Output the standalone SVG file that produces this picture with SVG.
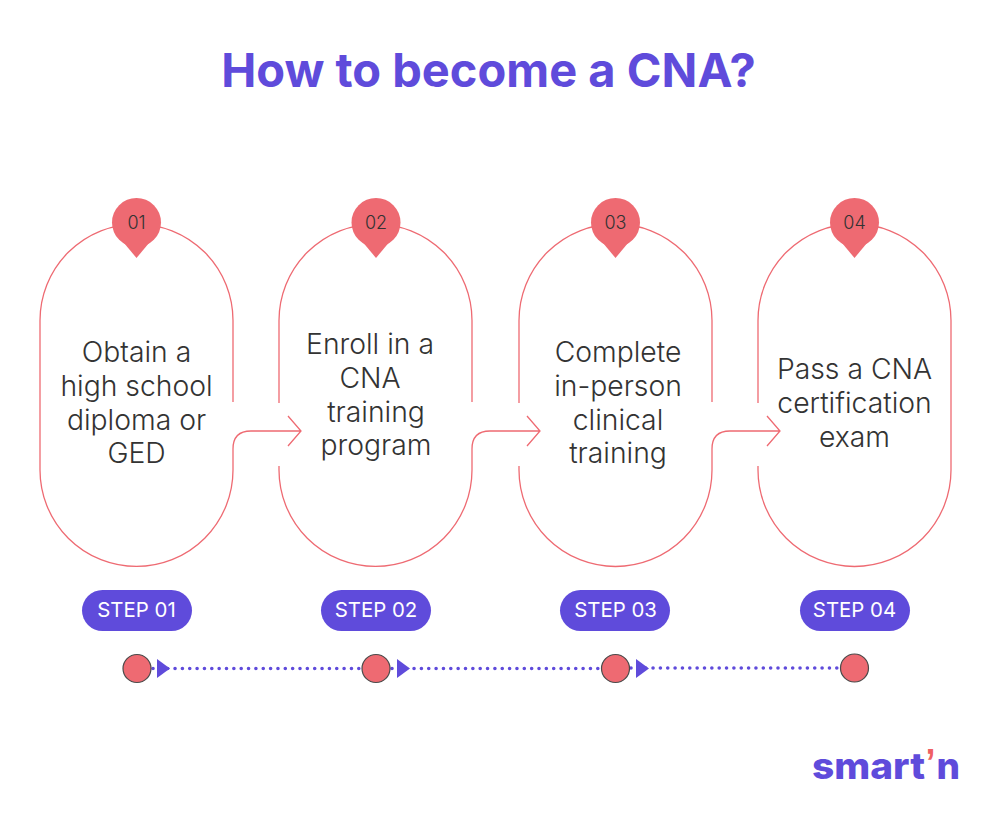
<svg xmlns="http://www.w3.org/2000/svg" width="1000" height="822" viewBox="0 0 1000 822">
<style>
.body{fill:none;stroke:#ee6a72;stroke-width:1.3}
.pin{fill:#ee6a72}
.num{font:300 18px Inter,sans-serif;fill:#333;text-anchor:middle}
.t{font:300 28.300px Inter,sans-serif;fill:#333;text-anchor:middle}
.pill{fill:#5f4bdb}
.st{font:20.400px Inter,sans-serif;fill:#fff;text-anchor:middle}
.dot{fill:#ee6a72;stroke:#4a4a4a;stroke-width:1.2}
.tri{fill:#5f4bdb}
.dots{stroke:#5f4bdb;stroke-width:3.6;stroke-dasharray:0 7.35;stroke-linecap:round;fill:none}
.logo{font-family:Inter,sans-serif;font-size:37px;font-weight:800;fill:#5f4bdb}
</style>
<rect width="1000" height="822" fill="#fff"/>
<text id="title" x="488.500" y="87" font-family="Inter,sans-serif" font-size="47" font-weight="700" fill="#5f4bdb" text-anchor="middle">How to become a CNA?</text>
<g id="connectors">
<path class="body" d="M233 466V449Q233 431 251 431H301M288 416L301 431L288 446"/>
<path class="body" d="M472 466V449Q472 431 490 431H540M527 416L540 431L527 446"/>
<path class="body" d="M712 466V449Q712 431 730 431H780M767 416L780 431L767 446"/>
<path class="dots" d="M153 668.500H360"/>
<path class="dots" d="M392 668.500H600"/>
<path class="dots" d="M631 668H838"/>
<path class="tri" d="M157 659L170 668.500L157 678Z"/>
<path class="tri" d="M397 659L410 668.500L397 678Z"/>
<path class="tri" d="M636 659L649 668.500L636 678Z"/>
</g>
<g id="step1">
<path class="body" d="M233 402V320.500A96.500 96.500 0 0 0 40 320.500V470A96.500 96.500 0 0 0 233 470V466"/>
<circle class="pin" cx="136.500" cy="222.500" r="24.500"/><path class="pin" d="M124 243L136.500 258L149 243Z"/>
<text class="num" x="136.500" y="228.500">01</text>
<text class="t" x="136.500" y="362">Obtain a</text><text class="t" x="136.500" y="396">high school</text><text class="t" x="136.500" y="430">diploma or</text><text class="t" x="136.500" y="463">GED</text>
<rect class="pill" x="82" y="590" width="110" height="41" rx="20.500"/>
<text class="st" x="136.500" y="617">STEP 01</text>
<circle class="dot" cx="137" cy="668.500" r="14"/>
</g>
<g id="step2">
<path class="body" d="M279 403V320.500A96.500 96.500 0 0 1 472 320.500V402M279 466V470A96.500 96.500 0 0 0 472 470V466"/>
<circle class="pin" cx="376" cy="222.500" r="24.500"/><path class="pin" d="M363.500 243L376 258L388.500 243Z"/>
<text class="num" x="376" y="228.500">02</text>
<text class="t" x="370" y="354">Enroll in a</text><text class="t" x="370" y="388">CNA</text><text class="t" x="376" y="422">training</text><text class="t" x="376" y="455">program</text>
<rect class="pill" x="321" y="590" width="110" height="41" rx="20.500"/>
<text class="st" x="376" y="617">STEP 02</text>
<circle class="dot" cx="376" cy="668.500" r="14"/>
</g>
<g id="step3">
<path class="body" d="M519 403V320.500A96.500 96.500 0 0 1 712 320.500V402M519 466V470A96.500 96.500 0 0 0 712 470V466"/>
<circle class="pin" cx="615.500" cy="222.500" r="24.500"/><path class="pin" d="M603 243L615.500 258L628 243Z"/>
<text class="num" x="615.500" y="228.500">03</text>
<text class="t" x="618" y="362">Complete</text><text class="t" x="618" y="396">in-person</text><text class="t" x="618" y="430">clinical</text><text class="t" x="618" y="463">training</text>
<rect class="pill" x="560" y="590" width="110" height="41" rx="20.500"/>
<text class="st" x="615.500" y="617">STEP 03</text>
<circle class="dot" cx="615.500" cy="668.500" r="14"/>
</g>
<g id="step4">
<path class="body" d="M758 403V320.500A96.500 96.500 0 0 1 951 320.500V470A96.500 96.500 0 0 1 758 470V466"/>
<circle class="pin" cx="854.500" cy="222.500" r="24.500"/><path class="pin" d="M842 243L854.500 258L867 243Z"/>
<text class="num" x="854.500" y="228.500">04</text>
<text class="t" x="854.500" y="379">Pass a CNA</text><text class="t" x="854.500" y="413">certification</text><text class="t" x="854.500" y="447">exam</text>
<rect class="pill" x="800" y="590" width="110" height="41" rx="20.500"/>
<text class="st" x="854.500" y="617">STEP 04</text>
<circle class="dot" cx="854.500" cy="668" r="14"/>
</g>
<g id="logo">
<text class="logo" x="812" y="779" textLength="113" lengthAdjust="spacingAndGlyphs">smart</text>
<text x="925.500" y="775" font-family="Liberation Sans,sans-serif" font-size="36" font-weight="700" fill="#ef5f63">’</text>
<text class="logo" x="936.500" y="779">n</text>
</g>
</svg>
